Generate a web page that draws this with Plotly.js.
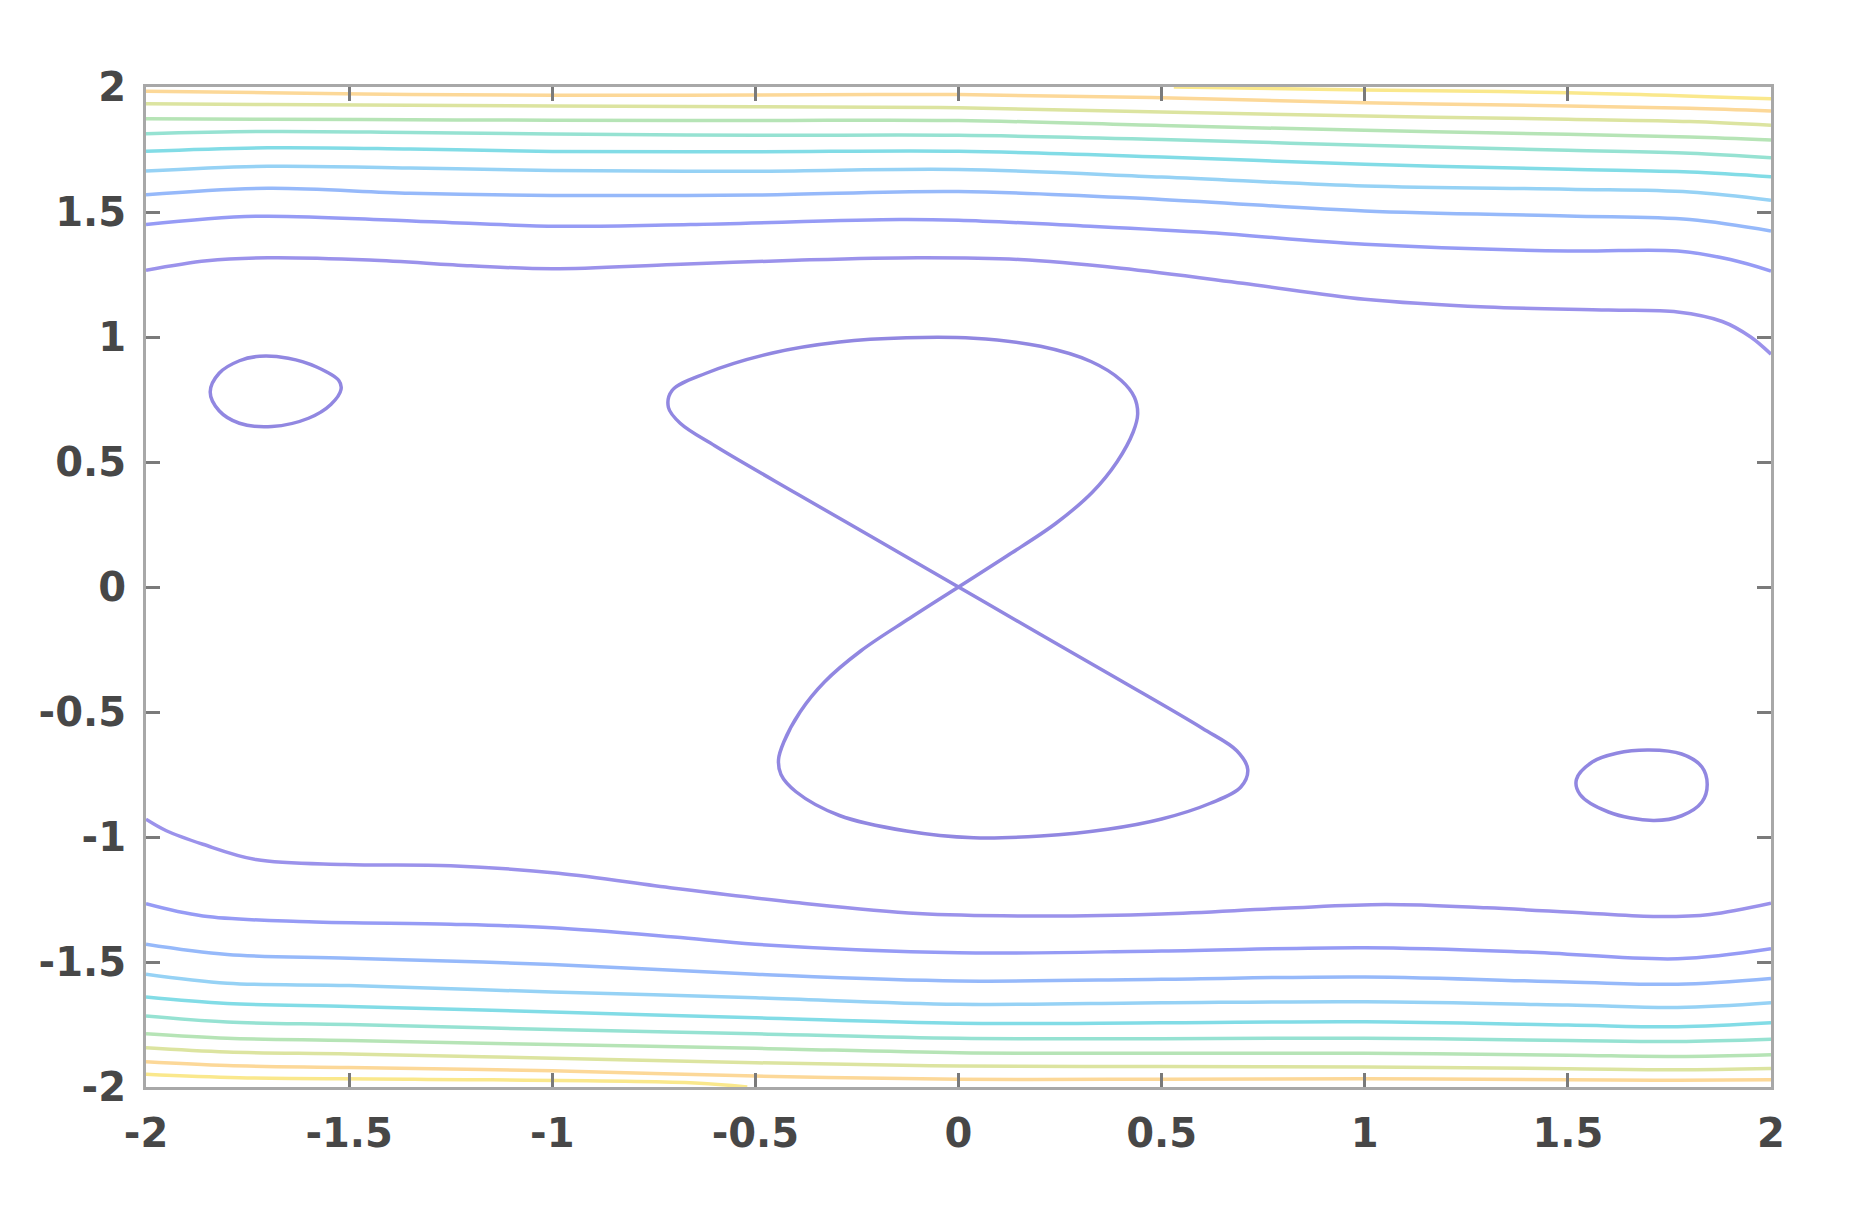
<!DOCTYPE html>
<html>
<head>
<meta charset="utf-8">
<script src="https://cdn.plot.ly/plotly-3.0.1.min.js"></script>
<style>html,body{margin:0;padding:0;background:#fff;}#chart{width:1857px;height:1206px;}</style>
</head>
<body>
<div id="chart"></div>
<script>
// ---- Tick labels ----
const TICK_VALS = [-2, -1.5, -1, -0.5, 0, 0.5, 1, 1.5, 2];
const TICK_TEXT = ['-2', '-1.5', '-1', '-0.5', '0', '0.5', '1', '1.5', '2'];

// ---- Upper contour lines ----
const TOP_X = [-2, -1.7, -1.35, -1.0, -0.5, 0, 0.5, 1.0, 1.5, 1.8, 2.0];
const TOP_ORANGE = [1.983, 1.977, 1.970, 1.967, 1.968, 1.970, 1.957, 1.937, 1.924, 1.915, 1.904];
const TOP_YELLOWGREEN = [1.933, 1.930, 1.927, 1.924, 1.921, 1.917, 1.900, 1.884, 1.871, 1.862, 1.847];
const TOP_GREEN = [1.873, 1.871, 1.869, 1.867, 1.866, 1.866, 1.846, 1.827, 1.811, 1.800, 1.788];
const TOP_TEAL = [1.813, 1.822, 1.818, 1.812, 1.807, 1.807, 1.790, 1.767, 1.747, 1.735, 1.717];
const TOP_CYAN = [1.743, 1.757, 1.752, 1.742, 1.741, 1.743, 1.720, 1.691, 1.671, 1.660, 1.641];
const TOP_LIGHTBLUE = [1.664, 1.683, 1.676, 1.666, 1.663, 1.670, 1.640, 1.604, 1.591, 1.580, 1.547];
const TOP_BLUE = [1.569, 1.595, 1.575, 1.566, 1.568, 1.582, 1.550, 1.504, 1.484, 1.470, 1.424];

const TOP_YELLOW_X = [0.53, 1.0, 1.5, 2.0];
const TOP_YELLOW_Y = [2.0, 1.988, 1.977, 1.953];

const TOP_PURPLE2_X = [-2, -1.73, -1.335, -0.985, -0.66, -0.145, 0, 0.3, 0.62, 1.0, 1.5, 1.77, 1.9, 2.0];
const TOP_PURPLE2_Y = [1.45, 1.483, 1.463, 1.443, 1.45, 1.47, 1.467, 1.445, 1.417, 1.371, 1.344, 1.344, 1.31, 1.264];

const TOP_PURPLE1_X = [-2, -1.85, -1.7, -1.45, -1.2, -1.0, -0.7, -0.4, -0.1, 0.15, 0.4, 0.7, 1.0, 1.3, 1.6, 1.77, 1.88, 1.95, 2.0];
const TOP_PURPLE1_Y = [1.267, 1.305, 1.317, 1.308, 1.285, 1.273, 1.290, 1.307, 1.317, 1.310, 1.275, 1.215, 1.151, 1.120, 1.108, 1.100, 1.062, 1.0, 0.931];

// ---- Lower contour lines ----
const BOT_X = [-2, -1.8, -1.5, -1.0, -0.5, 0, 0.5, 1.0, 1.5, 1.77, 2.0];
const BOT_ORANGE = [-1.899, -1.914, -1.922, -1.935, -1.956, -1.969, -1.969, -1.967, -1.971, -1.973, -1.971];
const BOT_YELLOWGREEN = [-1.843, -1.860, -1.868, -1.885, -1.903, -1.916, -1.918, -1.920, -1.927, -1.931, -1.926];
const BOT_GREEN = [-1.787, -1.805, -1.814, -1.830, -1.845, -1.863, -1.865, -1.865, -1.873, -1.878, -1.871];
const BOT_TEAL = [-1.716, -1.740, -1.750, -1.770, -1.787, -1.805, -1.807, -1.805, -1.814, -1.818, -1.809];
const BOT_CYAN = [-1.640, -1.666, -1.678, -1.700, -1.723, -1.745, -1.743, -1.739, -1.752, -1.759, -1.743];
const BOT_LIGHTBLUE = [-1.549, -1.585, -1.594, -1.620, -1.643, -1.669, -1.663, -1.659, -1.672, -1.682, -1.663];
const BOT_BLUE = [-1.429, -1.470, -1.485, -1.510, -1.549, -1.576, -1.569, -1.560, -1.580, -1.589, -1.566];

const BOT_YELLOW_X = [-2, -1.77, -1.34, -0.66, -0.52];
const BOT_YELLOW_Y = [-1.949, -1.963, -1.969, -1.983, -2.0];

const BOT_PURPLE2_X = [-2, -1.86, -1.6, -1.25, -1.0, -0.7, -0.5, 0, 0.5, 1.0, 1.4, 1.77, 2.0];
const BOT_PURPLE2_Y = [-1.267, -1.316, -1.339, -1.349, -1.363, -1.40, -1.429, -1.463, -1.456, -1.443, -1.46, -1.487, -1.447];

const BOT_PURPLE1_X = [-2, -1.95, -1.86, -1.73, -1.51, -1.25, -0.985, -0.7, -0.4, -0.1, 0.2, 0.5, 0.8, 1.05, 1.3, 1.55, 1.72, 1.85, 2.0];
const BOT_PURPLE1_Y = [-0.929, -0.975, -1.029, -1.090, -1.110, -1.115, -1.145, -1.205, -1.262, -1.306, -1.316, -1.308, -1.285, -1.270, -1.283, -1.305, -1.318, -1.310, -1.265];

// ---- Figure-eight separatrix ----
const EIGHT_X = [0, 0.12, 0.24, 0.33, 0.39, 0.43, 0.441, 0.433, 0.40, 0.326, 0.202, 0.037, -0.128, -0.293, -0.458, -0.623, -0.705, -0.714, -0.685, -0.60, -0.40, -0.20,
                 0, 0.20, 0.40, 0.60, 0.685, 0.712, 0.695, 0.62, 0.50, 0.367, 0.202, 0.037, -0.128, -0.293, -0.40, -0.437, -0.443, -0.43, -0.39, -0.33, -0.24, -0.12, 0];
const EIGHT_Y = [0, 0.125, 0.255, 0.38, 0.50, 0.62, 0.691, 0.759, 0.827, 0.902, 0.963, 0.995, 0.997, 0.98, 0.936, 0.854, 0.786, 0.718, 0.655, 0.565, 0.375, 0.188,
                 0, -0.188, -0.375, -0.565, -0.655, -0.73, -0.80, -0.865, -0.928, -0.969, -0.996, -1.003, -0.976, -0.914, -0.819, -0.75, -0.69, -0.62, -0.50, -0.38, -0.255, -0.125, 0];

// ---- Small closed loops ----
const LOOP_LEFT_X = [-1.72, -1.65, -1.58, -1.525, -1.52, -1.545, -1.6, -1.69, -1.77, -1.82, -1.842, -1.82, -1.77, -1.72];
const LOOP_LEFT_Y = [0.923, 0.915, 0.88, 0.825, 0.79, 0.73, 0.675, 0.642, 0.655, 0.705, 0.78, 0.855, 0.905, 0.923];
const LOOP_RIGHT_X = [1.71, 1.78, 1.83, 1.843, 1.83, 1.78, 1.70, 1.62, 1.56, 1.521, 1.53, 1.6, 1.71];
const LOOP_RIGHT_Y = [-0.934, -0.915, -0.86, -0.79, -0.72, -0.668, -0.652, -0.665, -0.70, -0.77, -0.83, -0.9, -0.934];

// ---- Colours per level ----
const C_EIGHT = 'rgb(145,135,225)';
const C_PURPLE1 = 'rgb(155,146,235)';
const C_PURPLE2 = 'rgb(150,155,245)';
const C_BLUE = 'rgb(150,185,250)';
const C_LIGHTBLUE = 'rgb(150,210,245)';
const C_CYAN = 'rgb(130,220,230)';
const C_TEAL = 'rgb(150,226,210)';
const C_GREEN = 'rgb(182,228,182)';
const C_YELLOWGREEN = 'rgb(220,228,160)';
const C_ORANGE = 'rgb(252,216,152)';
const C_YELLOW = 'rgb(250,232,140)';

function line(x, y, color) {
  return {
    type: 'scatter', mode: 'lines', x: x, y: y,
    line: { color: color, width: 3.5, shape: 'spline', smoothing: 1 },
    hoverinfo: 'skip', showlegend: false
  };
}

const traces = [
  line(TOP_YELLOW_X, TOP_YELLOW_Y, C_YELLOW),
  line(TOP_X, TOP_ORANGE, C_ORANGE),
  line(TOP_X, TOP_YELLOWGREEN, C_YELLOWGREEN),
  line(TOP_X, TOP_GREEN, C_GREEN),
  line(TOP_X, TOP_TEAL, C_TEAL),
  line(TOP_X, TOP_CYAN, C_CYAN),
  line(TOP_X, TOP_LIGHTBLUE, C_LIGHTBLUE),
  line(TOP_X, TOP_BLUE, C_BLUE),
  line(TOP_PURPLE2_X, TOP_PURPLE2_Y, C_PURPLE2),
  line(TOP_PURPLE1_X, TOP_PURPLE1_Y, C_PURPLE1),
  line(BOT_YELLOW_X, BOT_YELLOW_Y, C_YELLOW),
  line(BOT_X, BOT_ORANGE, C_ORANGE),
  line(BOT_X, BOT_YELLOWGREEN, C_YELLOWGREEN),
  line(BOT_X, BOT_GREEN, C_GREEN),
  line(BOT_X, BOT_TEAL, C_TEAL),
  line(BOT_X, BOT_CYAN, C_CYAN),
  line(BOT_X, BOT_LIGHTBLUE, C_LIGHTBLUE),
  line(BOT_X, BOT_BLUE, C_BLUE),
  line(BOT_PURPLE2_X, BOT_PURPLE2_Y, C_PURPLE2),
  line(BOT_PURPLE1_X, BOT_PURPLE1_Y, C_PURPLE1),
  line(EIGHT_X, EIGHT_Y, C_EIGHT),
  line(LOOP_LEFT_X, LOOP_LEFT_Y, C_EIGHT),
  line(LOOP_RIGHT_X, LOOP_RIGHT_Y, C_EIGHT)
];

const tickFont = { family: 'DejaVu Sans, sans-serif', size: 40, color: '#474747', weight: 'bold' };
const axisCommon = {
  range: [-2, 2], tickmode: 'array', tickvals: TICK_VALS, ticktext: TICK_TEXT,
  showgrid: false, zeroline: false, showline: true, linecolor: '#a8a8a8', linewidth: 3,
  mirror: 'ticks', ticks: 'inside', ticklen: 14, tickwidth: 3, tickcolor: '#7a7a7a',
  tickfont: tickFont, fixedrange: true
};

const layout = {
  width: 1857, height: 1206,
  margin: { l: 146, r: 86, t: 87, b: 119 },
  paper_bgcolor: '#ffffff', plot_bgcolor: '#ffffff',
  xaxis: Object.assign({}, axisCommon, { ticklabelstandoff: 9 }),
  yaxis: Object.assign({}, axisCommon, { ticklabelstandoff: 9 }),
  showlegend: false
};

Plotly.newPlot('chart', traces, layout, { displayModeBar: false, staticPlot: true });
</script>
</body>
</html>
